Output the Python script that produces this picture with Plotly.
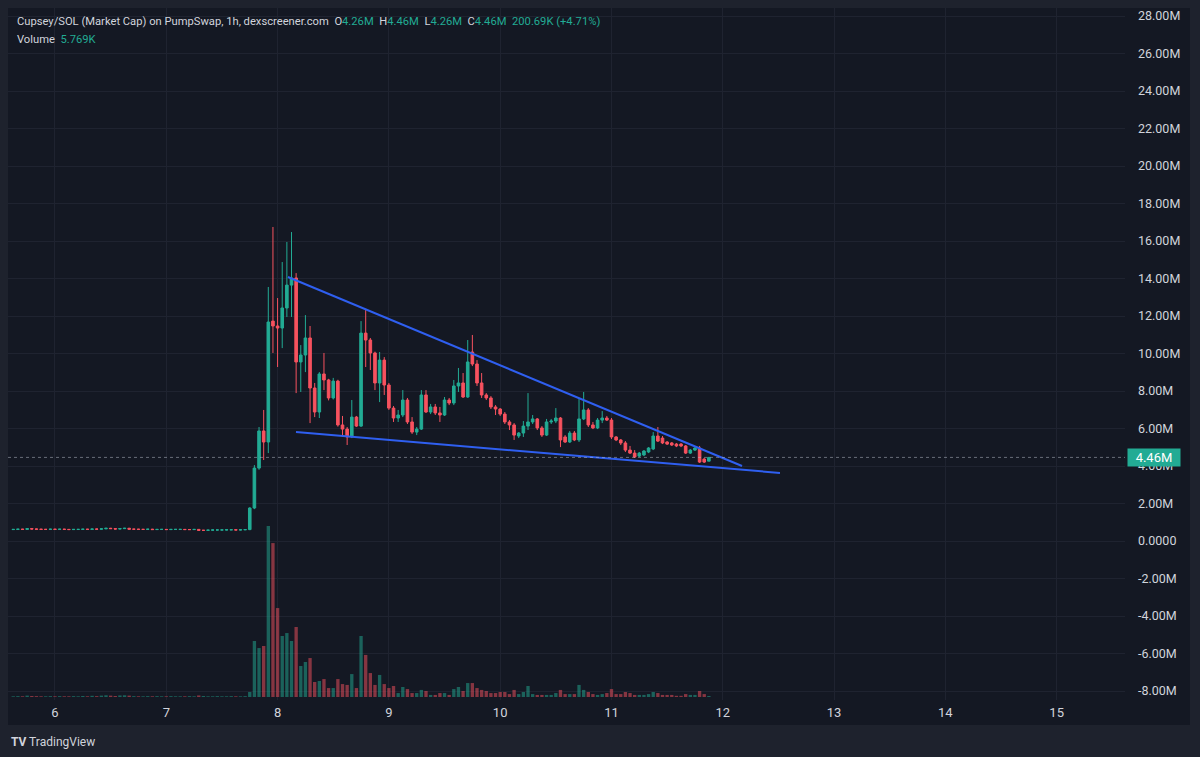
import pandas as pd
import plotly.graph_objects as go

# ---------------- data (market cap in millions USD, volume in thousands) ----------------
start_time = "2025-06-05 15:00"

# quiet period before the launch spike
flat_open = [0.61,0.62,0.63,0.62,0.66,0.64,0.63,0.62,0.62,0.63,0.62,0.63,0.62,0.61,0.62,0.62,0.63,0.62,0.64,0.63,
             0.65,0.68,0.66,0.64,0.66,0.68,0.63,0.63,0.62,0.62,0.63,0.61,0.62,0.62,0.61,0.62,0.62,0.62,0.61,0.61,
             0.62,0.57,0.57,0.58,0.59,0.59,0.59,0.60,0.60,0.59,0.60]
flat_high = [0.64,0.65,0.65,0.68,0.68,0.66,0.65,0.64,0.65,0.65,0.65,0.65,0.64,0.64,0.64,0.65,0.65,0.66,0.66,0.67,
             0.70,0.70,0.68,0.68,0.70,0.70,0.65,0.65,0.64,0.65,0.65,0.64,0.64,0.64,0.64,0.64,0.64,0.64,0.63,0.64,
             0.64,0.59,0.60,0.61,0.61,0.61,0.62,0.62,0.62,0.62,0.63]
flat_low = [0.59,0.60,0.60,0.60,0.62,0.61,0.60,0.60,0.60,0.60,0.60,0.60,0.59,0.59,0.60,0.60,0.60,0.60,0.61,0.61,
            0.63,0.64,0.62,0.62,0.64,0.61,0.61,0.60,0.60,0.60,0.59,0.59,0.60,0.59,0.59,0.60,0.60,0.59,0.59,0.59,
            0.55,0.55,0.55,0.56,0.57,0.57,0.57,0.58,0.57,0.57,0.58]
flat_close = [0.62,0.63,0.62,0.66,0.64,0.63,0.62,0.62,0.63,0.62,0.63,0.62,0.61,0.62,0.62,0.63,0.62,0.64,0.63,0.65,
              0.68,0.66,0.64,0.66,0.68,0.63,0.63,0.62,0.62,0.63,0.61,0.62,0.62,0.61,0.62,0.62,0.62,0.61,0.61,0.62,
              0.57,0.57,0.58,0.59,0.59,0.59,0.60,0.60,0.59,0.60,0.61]
flat_volume = [4,5,4,8,6,5,4,4,5,4,5,4,4,5,4,6,4,7,5,8,
               10,8,6,9,10,8,5,4,4,5,4,5,4,4,5,4,4,4,5,4,
               9,6,4,4,5,4,4,5,4,4,5]

# launch and falling wedge
main_open = [0.61,1.76,3.89,5.87,5.28,11.73,11.47,11.36,12.43,13.65,14.03,9.55,9.92,10.83,8.16,6.88,8.91,8.59,7.63,8.53,
             6.19,5.97,5.55,6.61,6.13,11.09,10.72,10.03,8.43,9.65,8.32,7.09,6.56,6.72,7.52,6.35,5.81,5.97,7.79,6.88,
             7.15,6.83,6.72,7.52,7.36,8.27,8.43,7.68,10.08,9.44,8.43,7.79,7.63,7.15,7.04,6.77,6.35,6.19,5.60,5.76,
             6.13,6.35,6.51,6.03,5.65,6.35,6.40,6.56,5.55,5.28,5.76,5.39,6.51,6.99,6.19,6.03,6.45,6.56,6.45,5.55,
             5.39,5.23,4.85,4.69,4.53,4.59,4.75,4.91,5.60,5.49,5.28,5.23,5.17,5.17,5.07,4.69,4.85,4.96,4.37,4.26]
main_high = [1.80,4.05,6.08,6.99,13.55,16.75,12.96,14.88,15.95,16.48,14.29,10.45,12.05,11.47,8.43,9.01,10.03,8.65,8.70,8.60,
             6.67,6.08,7.52,6.67,11.73,12.32,10.83,10.10,10.08,9.81,8.43,7.20,6.99,8.05,7.63,6.61,6.08,8.05,8.05,7.31,
             7.31,7.15,7.68,7.63,8.59,9.23,8.96,10.72,10.99,9.65,8.96,7.89,7.73,7.25,7.09,6.88,6.45,6.29,5.81,6.40,
             7.89,6.72,6.56,6.13,6.51,6.51,7.09,6.61,5.65,5.87,5.87,7.63,7.95,7.09,6.35,6.56,6.93,6.67,6.56,5.60,
             5.44,5.33,5.07,4.85,4.75,4.85,5.01,5.81,6.08,5.60,5.33,5.28,5.23,5.23,5.12,4.91,5.01,5.07,4.43,4.46]
main_low = [0.58,1.70,3.80,4.32,4.69,10.03,9.28,10.29,11.95,11.95,7.89,7.95,9.01,6.29,6.61,6.56,8.05,7.50,7.55,6.10,
            5.55,5.12,5.49,6.08,6.08,9.28,9.12,8.05,7.41,7.79,6.99,6.35,6.35,6.61,6.24,5.71,5.65,5.92,6.83,6.77,
            6.72,6.35,6.67,7.25,7.25,7.95,7.63,7.63,9.33,8.27,7.63,7.52,7.04,6.72,6.67,6.24,5.92,5.39,5.49,5.55,
            5.92,6.24,5.92,5.55,5.60,6.24,6.29,5.01,5.23,5.23,5.33,5.28,6.45,6.08,5.97,5.97,6.29,6.40,5.44,5.33,
            5.12,4.75,4.64,4.43,4.48,4.53,4.69,4.85,5.28,5.17,5.12,5.07,5.01,5.01,4.64,4.64,4.80,4.16,4.16,4.26]
main_close = [1.76,3.89,5.87,5.28,11.68,11.47,11.36,12.43,13.65,14.03,9.55,9.92,10.83,8.16,6.88,8.91,8.59,7.63,8.53,6.19,
              5.97,5.55,6.61,6.13,11.09,10.72,10.03,8.43,9.65,8.32,7.09,6.56,6.72,7.52,6.35,5.81,5.97,7.79,6.88,7.15,
              6.83,6.72,7.52,7.36,8.27,8.43,7.68,9.55,9.44,8.43,7.79,7.63,7.15,7.04,6.77,6.35,6.19,5.65,5.76,6.13,
              6.35,6.51,6.03,5.65,6.35,6.40,6.56,5.39,5.28,5.76,5.39,6.51,6.99,6.19,6.03,6.45,6.56,6.45,5.55,5.39,
              5.23,4.85,4.69,4.48,4.69,4.80,4.96,5.60,5.33,5.23,5.17,5.12,5.07,5.07,4.69,4.85,4.96,4.21,4.21,4.46]
main_volume = [29,325,284,296,992,893,516,354,371,325,406,180,203,226,87,93,104,52,52,104,
               75,70,133,52,354,244,139,70,128,75,52,64,23,58,46,23,23,41,35,12,
               12,23,23,12,46,58,35,81,81,52,41,35,23,23,29,29,17,41,17,29,
               64,17,12,12,12,12,23,41,17,17,17,70,41,29,17,12,17,23,46,17,
               17,29,23,12,12,12,17,29,23,12,12,12,7,7,17,12,12,35,17,5.769]

# hand-drawn wedge lines: (time, market cap in M)
upper_line_time = ["2025-06-08 02:14", "2025-06-12 04:09"]
upper_line_value = [14.08, 4.00]
lower_line_time = ["2025-06-08 03:58", "2025-06-12 12:20"]
lower_line_value = [5.81, 3.63]

last_price = 4.46
y_tick_values = [-8, -6, -4, -2, 0, 2, 4, 6, 8, 10, 12, 14, 16, 18, 20, 22, 24, 26, 28]
y_tick_labels = ["-8.00M", "-6.00M", "-4.00M", "-2.00M", "0.0000", "2.00M", "4.00M", "6.00M", "8.00M", "10.00M",
                 "12.00M", "14.00M", "16.00M", "18.00M", "20.00M", "22.00M", "24.00M", "26.00M", "28.00M"]

# ---------------- figure ----------------
opens = flat_open + main_open
highs = flat_high + main_high
lows = flat_low + main_low
closes = flat_close + main_close
volumes = flat_volume + main_volume
times = pd.date_range(start_time, periods=len(closes), freq="h")

UP = "#22ab94"
DOWN = "#f7525f"
UP_VOL = "rgba(34,171,148,0.5)"
DOWN_VOL = "rgba(247,82,95,0.5)"
PANE = "#141823"
OUTER = "#1e222d"
GRID = "#1f2330"
TEXT = "#d1d4dc"
FONT = "Roboto"

vol_colors = [UP_VOL if c >= o else DOWN_VOL for o, c in zip(opens, closes)]

fig = go.Figure()

fig.add_trace(go.Bar(
    x=times, y=volumes, marker=dict(color=vol_colors, line=dict(width=0)),
    yaxis="y2", hoverinfo="skip", showlegend=False,
))

fig.add_trace(go.Candlestick(
    x=times, open=opens, high=highs, low=lows, close=closes,
    increasing=dict(line=dict(color=UP, width=1), fillcolor=UP),
    decreasing=dict(line=dict(color=DOWN, width=1), fillcolor=DOWN),
    whiskerwidth=0, showlegend=False,
))

for lt, lv in ((upper_line_time, upper_line_value), (lower_line_time, lower_line_value)):
    fig.add_trace(go.Scatter(
        x=pd.to_datetime(lt), y=lv, mode="lines",
        line=dict(color="#2f5ff0", width=2), showlegend=False, hoverinfo="skip",
    ))

# plot area geometry (pixels)
L, R, T, B = 8, 1125, 8, 700
W, H = R - L, B - T

def px_x(x):
    return (x - L) / W

def px_y(y):
    return (B - y) / H

x_left = pd.Timestamp("2025-06-05 13:52")
x_right = pd.Timestamp("2025-06-15 14:44")

fig.update_layout(
    width=1200, height=757,
    margin=dict(l=L, r=1200 - R, t=T, b=757 - B),
    paper_bgcolor=OUTER, plot_bgcolor=PANE,
    font=dict(family=FONT, color=TEXT, size=13),
    bargap=0.28, boxgap=0.2,
    xaxis=dict(
        type="date", range=[x_left, x_right],
        rangeslider=dict(visible=False),
        tick0="2025-06-06", dtick=86400000, tickformat="%-d",
        showgrid=True, gridcolor=GRID, gridwidth=1,
        zeroline=False, showline=False, ticks="",
        tickfont=dict(size=13, color=TEXT), ticklabelstandoff=3,
    ),
    yaxis=dict(
        side="right", range=[-8.48, 28.43],
        tickvals=y_tick_values, ticktext=y_tick_labels,
        showgrid=True, gridcolor=GRID, gridwidth=1,
        zeroline=False, showline=False, ticks="",
        tickfont=dict(size=12.5, color=TEXT), ticklabelstandoff=12,
    ),
    yaxis2=dict(
        overlaying="y", range=[-17.4, 3997], visible=False, showgrid=False,
    ),
    hovermode=False,
)

# pane background extending under the axes
fig.add_shape(type="rect", xref="paper", yref="paper",
              x0=0, x1=px_x(1190), y0=px_y(725), y1=1,
              fillcolor=PANE, line=dict(width=0), layer="below")

# last price dotted line
fig.add_shape(type="line", xref="paper", yref="y", x0=0, x1=1, y0=last_price, y1=last_price,
              line=dict(color="rgba(190,195,205,0.5)", width=1, dash="dot"))

fig.add_annotation(
    xref="paper", yref="y", x=px_x(1127), y=last_price, xanchor="left", yanchor="middle",
    text="4.46M", showarrow=False, bgcolor=UP, borderpad=1, width=50, height=15, align="center",
    font=dict(family=FONT, size=13, color="#ffffff"),
)

# header legend
g = UP
header1 = (f'<span style="color:{TEXT}">Cupsey/SOL (Market Cap) on PumpSwap, 1h, dexscreener.com</span>'
           f'&nbsp;&nbsp;<span style="color:{TEXT}">O</span><span style="color:{g}">4.26M</span>'
           f'&nbsp;&nbsp;<span style="color:{TEXT}">H</span><span style="color:{g}">4.46M</span>'
           f'&nbsp;&nbsp;<span style="color:{TEXT}">L</span><span style="color:{g}">4.26M</span>'
           f'&nbsp;&nbsp;<span style="color:{TEXT}">C</span><span style="color:{g}">4.46M</span>'
           f'&nbsp;&nbsp;<span style="color:{g}">200.69K (+4.71%)</span>')
fig.add_annotation(xref="paper", yref="paper", x=px_x(15), y=px_y(22), xanchor="left", yanchor="middle",
                   text=header1, showarrow=False, font=dict(family=FONT, size=11.2, color=TEXT))
fig.add_annotation(xref="paper", yref="paper", x=px_x(15), y=px_y(40), xanchor="left", yanchor="middle",
                   text=f'Volume&nbsp;&nbsp;<span style="color:{g}">5.769K</span>', showarrow=False,
                   font=dict(family=FONT, size=11.2, color=TEXT))

# TradingView watermark
fig.add_annotation(xref="paper", yref="paper", x=px_x(9), y=px_y(742), xanchor="left", yanchor="middle",
                   text="<b>TV</b> TradingView", showarrow=False,
                   font=dict(family=FONT, size=12, color=TEXT))

fig.write_html("out.html")
